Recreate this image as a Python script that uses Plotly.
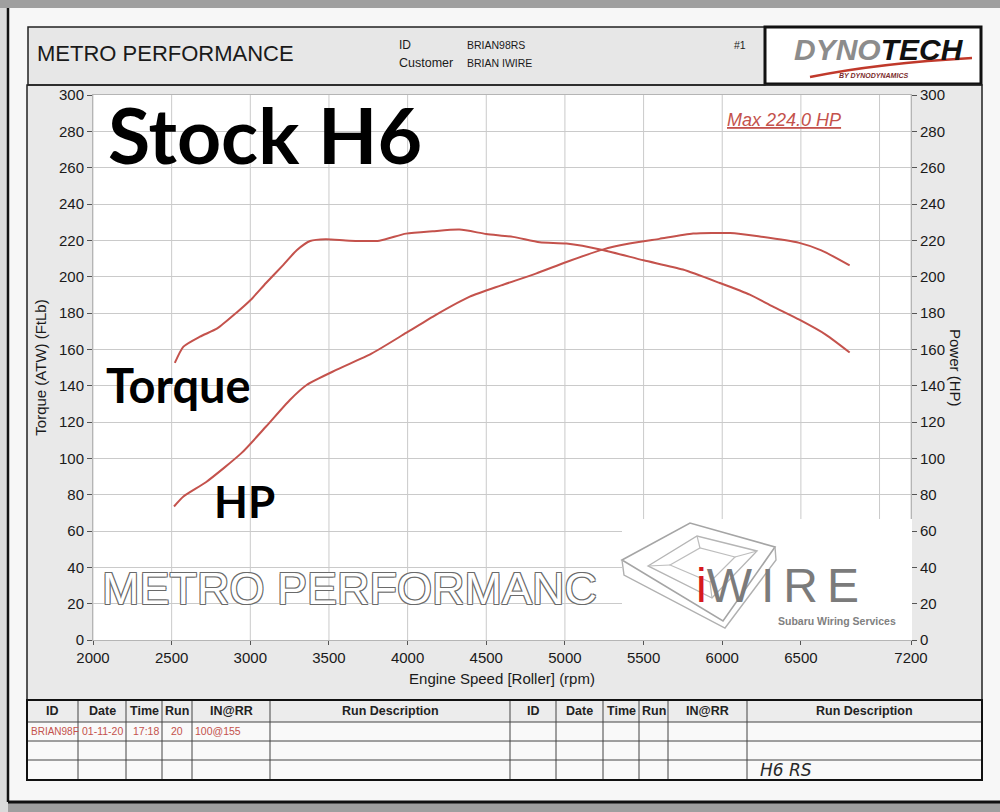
import plotly.graph_objects as go

# ---------------- data (read from the dyno sheet) ----------------
torque_rpm = [2520, 2575, 2680, 2790, 2910, 3000, 3100, 3210, 3295, 3380, 3480, 3630,
              3820, 3990, 4160, 4330, 4500, 4670, 4840, 5010, 5240, 5500, 5750, 5985,
              6175, 6320, 6490, 6660, 6810]
torque_ftlb = [152.5, 161.5, 167.0, 171.5, 180.0, 187.0, 196.5, 206.5, 214.5, 219.6, 220.6, 219.8,
               219.8, 223.7, 225.0, 225.9, 223.5, 221.9, 218.9, 218.2, 214.7, 209.0, 203.9, 196.5,
               190.1, 183.6, 176.3, 168.0, 158.3]

hp_rpm = [2515, 2575, 2720, 2945, 3100, 3250, 3360, 3550, 3770, 3990, 4180, 4395,
          4595, 4815, 5010, 5240, 5410, 5600, 5815, 6050, 6230, 6490, 6630, 6810]
hp_values = [73.5, 79.0, 87.0, 103.0, 117.5, 132.0, 140.5, 148.8, 157.6, 169.0, 179.0, 189.0,
             195.2, 201.7, 208.1, 214.9, 218.2, 220.8, 223.7, 224.0, 222.2, 218.6, 214.5, 206.2]

x_ticks = [2000, 2500, 3000, 3500, 4000, 4500, 5000, 5500, 6000, 6500, 7200]
x_tick_labels = ["2000", "2500", "3000", "3500", "4000", "4500", "5000", "5500", "6000", "6500", "7200"]
x_grid = [2000, 2500, 3000, 3500, 4000, 4500, 5000, 5500, 6000, 6500, 7000, 7200]
y_ticks = [0, 20, 40, 60, 80, 100, 120, 140, 160, 180, 200, 220, 240, 260, 280, 300]

table_headers = ["ID", "Date", "Time", "Run", "IN@RR", "Run Description"]
run_row = ["BRIAN98F", "01-11-20", "17:18", "20", "100@155"]
max_hp_label = "Max 224.0 HP"

# ---------------- geometry helpers (pixel -> paper) ----------------
W, H = 1000, 812
PL, PR, PT, PB = 93, 911, 95, 640


def fx(x):
    return (x - PL) / (PR - PL)


def fy(y):
    return (PB - y) / (PB - PT)


SANS = "Liberation Sans, Arial, sans-serif"
BIG = "Lato, Open Sans, sans-serif"
CURVE = "#c4524c"

shapes = []


def rect(x0, y0, x1, y1, fill=None, line=None, lw=0, layer="below"):
    shapes.append(dict(type="rect", xref="paper", yref="paper",
                       x0=fx(x0), x1=fx(x1), y0=fy(y1), y1=fy(y0),
                       fillcolor=fill if fill else "rgba(0,0,0,0)",
                       line=dict(color=line if line else "rgba(0,0,0,0)", width=lw),
                       layer=layer))


def hline(x0, x1, y, color="#333", lw=1, layer="above"):
    shapes.append(dict(type="line", xref="paper", yref="paper", x0=fx(x0), x1=fx(x1),
                       y0=fy(y), y1=fy(y), line=dict(color=color, width=lw), layer=layer))


def vline(x, y0, y1, color="#333", lw=1, layer="above"):
    shapes.append(dict(type="line", xref="paper", yref="paper", x0=fx(x), x1=fx(x),
                       y0=fy(y0), y1=fy(y1), line=dict(color=color, width=lw), layer=layer))


def poly(points, color="#a8a8a8", lw=1.5, close=True):
    d = "M " + " L ".join(f"{fx(a):.5f},{fy(b):.5f}" for a, b in points)
    if close:
        d += " Z"
    shapes.append(dict(type="path", xref="paper", yref="paper", path=d,
                       line=dict(color=color, width=lw), layer="above"))


annotations = []


def txt(text, x, y, size, color="#111", family=SANS, xanchor="left", yanchor="middle", **kw):
    font = dict(family=family, size=size, color=color)
    font.update(kw.pop("font_extra", {}))
    annotations.append(dict(text=text, x=fx(x), y=fy(y), xref="paper", yref="paper",
                            xanchor=xanchor, yanchor=yanchor, showarrow=False, font=font, **kw))


# ---------------- page background ----------------
rect(0, 0, 1000, 812, fill="#9f9f9f")            # scanner bed
rect(0, 8, 8, 812, fill="#dadada")               # left strip
rect(8, 8, 1000, 802, fill="#f7f7f7")            # paper
rect(28, 27, 765, 85, fill="#e7e7e7")            # header box
rect(765, 27, 981, 84, fill="#ffffff")           # dynotech box
rect(27, 85, 982, 700, fill="#e9e9e9")           # chart frame
rect(PL, PT, PR, PB, fill="#ffffff")             # plot area
rect(27, 700, 982, 722, fill="#ececec")          # table header row
rect(27, 722, 982, 780, fill="#f9f9f9")          # table rows

# ---------------- logo box over the plot (white) ----------------
rect(622, 519, 912, 640, fill="#ffffff", layer="above")
# ECU outline drawing
poly([(622, 560), (690, 523), (775, 547), (723, 621)], color="#a5a5a5", lw=1.6)
poly([(622, 560), (624, 575), (725, 628), (776, 560), (775, 547)], color="#b0b0b0", lw=1.4, close=False)
poly([(648, 566), (697, 536), (757, 551), (712, 598)], color="#b5b5b5", lw=1.4)
poly([(670, 565), (700, 548), (735, 557), (710, 582)], color="#bdbdbd", lw=1.2)
poly([(648, 566), (670, 565)], color="#bdbdbd", lw=1.2, close=False)
poly([(697, 536), (700, 548)], color="#bdbdbd", lw=1.2, close=False)
poly([(757, 551), (735, 557)], color="#bdbdbd", lw=1.2, close=False)
poly([(712, 598), (710, 582)], color="#bdbdbd", lw=1.2, close=False)

# ---------------- frames ----------------
vline(8, 8, 802, color="#111", lw=2.5)
hline(8, 1000, 802, color="#111", lw=3)
rect(28, 27, 765, 85, line="#222", lw=1.5, layer="above")
rect(765, 27, 981, 84, line="#111", lw=3, layer="above")
rect(27, 85, 982, 700, line="#222", lw=1.5, layer="above")

# DYNOTECH swoosh
shapes.append(dict(type="path", xref="paper", yref="paper",
                   path=f"M {fx(810):.5f},{fy(77):.5f} Q {fx(880):.5f},{fy(63):.5f} {fx(972):.5f},{fy(58):.5f}",
                   line=dict(color="#c0392b", width=2.5), layer="above"))

# ---------------- table ----------------
table_cols = [27, 78, 126, 162, 192, 270, 510, 556, 603, 639, 668, 747, 982]
for y in (722, 741, 760):
    hline(27, 982, y, color="#444", lw=1)
for x in table_cols[1:-1]:
    vline(x, 700, 780, color="#444", lw=1)
rect(27, 700, 982, 780, line="#111", lw=2, layer="above")

for half in range(2):
    cols = table_cols[half * 6: half * 6 + 7]
    for i, h in enumerate(table_headers):
        txt(f"<b>{h}</b>", (cols[i] + cols[i + 1]) / 2, 711, 12.5, color="#222", xanchor="center")

txt(run_row[0], 29, 731, 10, color=CURVE)
txt(run_row[1], 80, 731, 10.5, color=CURVE)
txt(run_row[2], 161, 731, 10.5, color=CURVE, xanchor="right")
txt(run_row[3], 177, 731, 10.5, color=CURVE, xanchor="center")
txt(run_row[4], 193, 731, 10.5, color=CURVE)
txt("<i>H6 RS</i>", 758, 770, 17, color="#2a2a2a", family="DejaVu Sans, sans-serif")

# ---------------- header texts ----------------
txt("METRO PERFORMANCE", 35, 53, 22, color="#1a1a1a")
txt("ID", 397, 45, 12, color="#1a1a1a")
txt("Customer", 397, 63, 12.5, color="#1a1a1a")
txt("BRIAN98RS", 465, 45, 10.5, color="#1a1a1a")
txt("BRIAN IWIRE", 465, 63, 10.5, color="#1a1a1a")
txt("#1", 732, 45, 10.5, color="#1a1a1a")
txt("<b><i><span style='color:#8c8c8c'>DYNO</span><span style='color:#111111'>TECH</span></i></b>",
    879, 49, 30, xanchor="center")
txt("<b><i>BY DYNODYNAMICS</i></b>", 873, 75, 7, color="#7a2a2a", xanchor="center")

# ---------------- chart texts ----------------
txt("<b>Stock H6</b>", 106, 134, 77, color="#000", family=BIG)
txt("<b>Torque</b>", 104, 385, 47, color="#000", family=BIG)
txt("<b>HP</b>", 212, 501, 44, color="#000", family=BIG)
txt(f"<i><u>{max_hp_label}</u></i>", 725, 120, 18, color=CURVE)
txt("Power (HP)", 956, 368, 15, color="#1a1a1a", xanchor="center", textangle=90)
txt("METRO PERFORMANC", 100, 588, 45, color="#ffffff",
    font_extra=dict(shadow="1px 1px 0 #6a6a6a, -1px -1px 0 #6a6a6a, 1px -1px 0 #6a6a6a, -1px 1px 0 #6a6a6a"))
txt("<span style='color:#d71920'>i</span><span style='letter-spacing:9px'>WIRE</span>", 694, 585, 48, color="#7b7b7b")
txt("<b>Subaru Wiring Services</b>", 898, 621, 10.5, color="#808080", xanchor="right")

# ---------------- figure ----------------
fig = go.Figure()
fig.add_trace(go.Scatter(x=torque_rpm, y=torque_ftlb, mode="lines", name="Torque",
                         line=dict(color=CURVE, width=2, shape="spline", smoothing=0.6),
                         yaxis="y"))
fig.add_trace(go.Scatter(x=hp_rpm, y=hp_values, mode="lines", name="HP",
                         line=dict(color=CURVE, width=2, shape="spline", smoothing=0.6),
                         yaxis="y2"))

axis_font = dict(family=SANS, size=15, color="#1a1a1a")
fig.update_layout(
    width=W, height=H, autosize=False,
    margin=dict(l=PL, r=W - PR, t=PT, b=H - PB, pad=0),
    paper_bgcolor="#9f9f9f", plot_bgcolor="#ffffff",
    showlegend=False,
    shapes=shapes, annotations=annotations,
    xaxis=dict(range=[2000, 7200], tickvals=x_ticks, ticktext=x_tick_labels,
               ticks="outside", ticklen=4, tickcolor="#555", tickfont=axis_font,
               showgrid=False, zeroline=False, showline=True, linecolor="#b5b5b5", mirror=True,
               title=dict(text="Engine Speed [Roller] (rpm)", font=axis_font, standoff=8)),
    yaxis=dict(range=[0, 300], tickvals=y_ticks, ticks="outside", ticklen=5, tickcolor="#555",
               tickfont=axis_font, showgrid=True, gridcolor="#cacaca", gridwidth=1,
               zeroline=False, showline=True, linecolor="#b5b5b5", mirror=True,
               title=dict(text="Torque (ATW) (FtLb)", font=axis_font, standoff=8)),
    yaxis2=dict(range=[0, 300], tickvals=y_ticks, ticks="outside", ticklen=5, tickcolor="#555",
                tickfont=axis_font, overlaying="y", side="right", showgrid=False,
                zeroline=False, showline=False),
)
# vertical grid lines (every 500 rpm plus the 7200 edge)
for g in x_grid:
    fig.add_vline(x=g, line=dict(color="#cacaca", width=1), layer="below")

fig.write_html("out.html", config={"displayModeBar": False},
               post_script="document.body.style.margin='0';document.body.style.overflow='hidden';")
